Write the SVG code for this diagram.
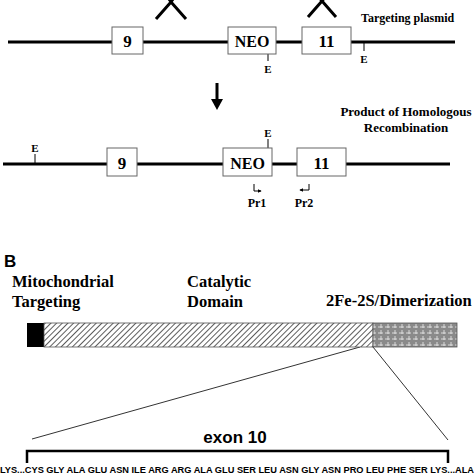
<svg xmlns="http://www.w3.org/2000/svg" width="474" height="474" viewBox="0 0 474 474">
<style>
.ln{stroke:#000;stroke-width:3;fill:none}
.tk{stroke:#000;stroke-width:1;fill:none}
.bx{fill:#fff;stroke:#666;stroke-width:1}
.lb{font-family:"Liberation Serif",serif;font-weight:bold;fill:#000}
.sn{font-family:"Liberation Sans",Arial,sans-serif;font-weight:bold;fill:#000}
</style>
<defs>
<pattern id="hatch" patternUnits="userSpaceOnUse" width="4" height="4" patternTransform="rotate(45)">
<rect width="4" height="4" fill="#fff"/>
<line x1="0" y1="0" x2="0" y2="4" stroke="#333" stroke-width="1.6"/>
</pattern>
<pattern id="cross" patternUnits="userSpaceOnUse" width="7" height="6">
<rect width="7" height="6" fill="#8a8a8a"/>
<line x1="0" y1="3" x2="5" y2="3" stroke="#eee" stroke-width="0.8"/>
<line x1="3" y1="0" x2="3" y2="4" stroke="#eee" stroke-width="0.8"/>
</pattern>
<marker id="ah" viewBox="0 0 6 6" refX="5" refY="3" markerWidth="4" markerHeight="4" orient="auto">
<path d="M0,0 L6,3 L0,6 z" fill="#000"/>
</marker>
</defs>
<g id="connectors">
<line class="ln" x1="8" y1="42" x2="455" y2="42"/>
<line class="ln" x1="3" y1="164" x2="450" y2="164"/>
<path class="ln" d="M156,19 L171,2 L186,19 M171,2 L167,-4 M171,2 L175,-4"/>
<path class="ln" d="M308,17 L322,1 L336,17 M322,1 L318,-4 M322,1 L326,-4"/>
<line class="ln" x1="217" y1="83" x2="217" y2="100"/>
<path d="M211,99 L223,99 L217,110 z" fill="#000"/>
<line class="tk" x1="268" y1="54" x2="268" y2="61"/>
<line class="tk" x1="364" y1="42" x2="364" y2="51"/>
<line class="tk" x1="35" y1="154" x2="35" y2="164"/>
<line class="tk" x1="268" y1="139" x2="268" y2="148"/>
<path class="tk" d="M254,184 L254,191 L261,191" marker-end="url(#ah)"/>
<path class="tk" d="M309,184 L309,190 L300,190" marker-end="url(#ah)"/>
<line stroke="#333" stroke-width="1" x1="360" y1="347" x2="32" y2="439"/>
<line stroke="#333" stroke-width="1" x1="373" y1="347" x2="448" y2="440"/>
<path d="M27,463 L27,451 L448,451 L448,463" stroke="#000" stroke-width="2.5" fill="none"/>
</g>
<g id="exon9a"><rect class="bx" x="112" y="27" width="31" height="27"/><text class="lb" x="127.5" y="46.5" font-size="17" text-anchor="middle">9</text></g>
<g id="neoa"><rect class="bx" x="228" y="27" width="48" height="27"/><text class="lb" x="252" y="46.5" font-size="16" text-anchor="middle">NEO</text></g>
<g id="exon11a"><rect class="bx" x="302" y="27" width="49" height="27"/><text class="lb" x="326.5" y="46.5" font-size="17" text-anchor="middle">11</text></g>
<g id="exon9b"><rect class="bx" x="107" y="148" width="30" height="28"/><text class="lb" x="122" y="168.5" font-size="17" text-anchor="middle">9</text></g>
<g id="neob"><rect class="bx" x="223" y="148" width="49" height="28"/><text class="lb" x="247.5" y="168.5" font-size="16" text-anchor="middle">NEO</text></g>
<g id="exon11b"><rect class="bx" x="297" y="148" width="49" height="28"/><text class="lb" x="321.5" y="168.5" font-size="17" text-anchor="middle">11</text></g>
<g id="labels">
<text class="lb" x="268" y="73" font-size="11" text-anchor="middle">E</text>
<text class="lb" x="364" y="63" font-size="11" text-anchor="middle">E</text>
<text class="lb" x="35" y="152" font-size="11" text-anchor="middle">E</text>
<text class="lb" x="268" y="137" font-size="11" text-anchor="middle">E</text>
<text class="lb" x="361" y="22" font-size="12">Targeting plasmid</text>
<text class="lb" x="406" y="116" font-size="13" text-anchor="middle">Product of Homologous</text>
<text class="lb" x="406" y="132" font-size="13" text-anchor="middle">Recombination</text>
<text class="lb" x="257" y="207" font-size="12" text-anchor="middle">Pr1</text>
<text class="lb" x="304" y="207" font-size="12" text-anchor="middle">Pr2</text>
<text class="sn" x="4" y="267" font-size="17">B</text>
<text class="lb" x="12" y="287" font-size="16.5">Mitochondrial</text>
<text class="lb" x="12" y="307" font-size="16.5">Targeting</text>
<text class="lb" x="187" y="287" font-size="16.5">Catalytic</text>
<text class="lb" x="187" y="307" font-size="16.5">Domain</text>
<text class="lb" x="326" y="306" font-size="16.5">2Fe-2S/Dimerization</text>
<text class="sn" x="235" y="443" font-size="17" text-anchor="middle">exon 10</text>
<text class="sn" x="0" y="473" font-size="8.5" textLength="474" lengthAdjust="spacingAndGlyphs">LYS...CYS GLY ALA GLU ASN ILE ARG ARG ALA GLU SER LEU ASN GLY ASN PRO LEU PHE SER LYS...ALA</text>
</g>
<g id="bar">
<rect x="27" y="323" width="17" height="24" fill="#000"/>
<rect x="44" y="323" width="329" height="24" fill="url(#hatch)" stroke="#555" stroke-width="0.8"/>
<rect x="373" y="323" width="84" height="24" fill="url(#cross)" stroke="#555" stroke-width="0.8"/>
</g>
</svg>
